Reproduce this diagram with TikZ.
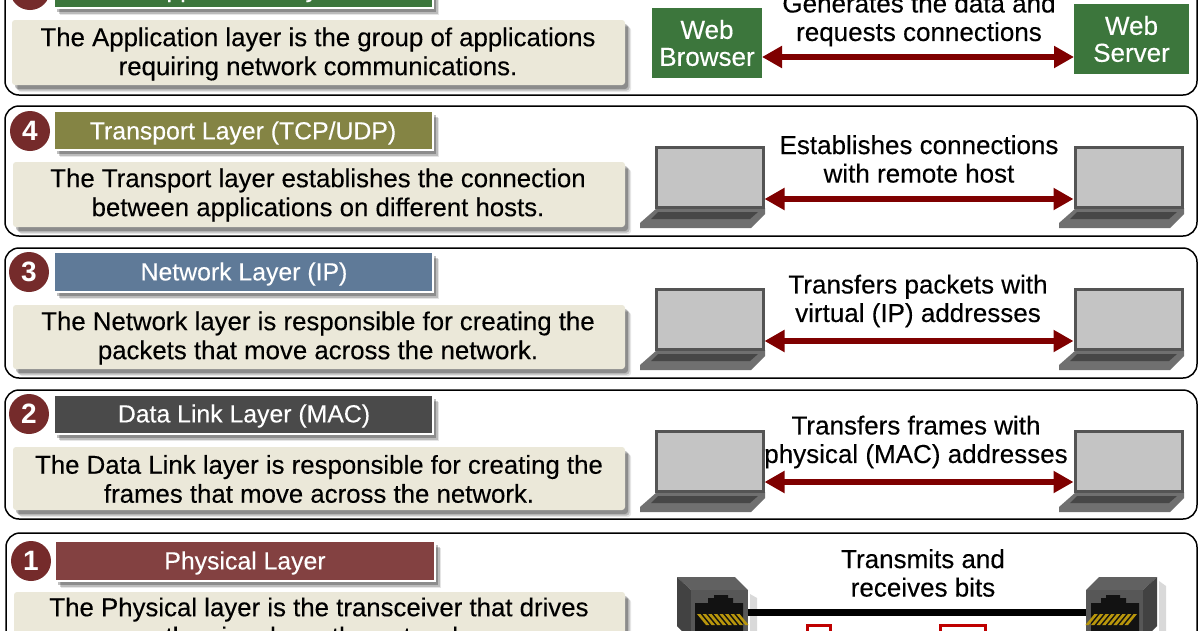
\documentclass[tikz,border=0pt]{standalone}
\usepackage{fontspec}
\setmainfont{Liberation Sans}
\newfontfamily\heavy[FakeBold=0.25]{Liberation Sans}
\usetikzlibrary{arrows.meta,shadows}
\definecolor{tan}{HTML}{EBE8D9}
\definecolor{darkred}{HTML}{7F0000}
\definecolor{badge}{HTML}{752B2B}
\definecolor{hgreen}{HTML}{3C763C}
\definecolor{holive}{HTML}{848444}
\definecolor{hblue}{HTML}{5F7A98}
\definecolor{hdark}{HTML}{4A4A4A}
\definecolor{hred}{HTML}{834141}
\definecolor{stripe}{HTML}{B8960C}
\tikzset{
  softshadow/.style={
    general shadow={fill=black,opacity=.10,shadow xshift=6pt,shadow yshift=-7pt},
    general shadow={fill=black,opacity=.18,shadow xshift=4.5pt,shadow yshift=-5.5pt},
    general shadow={fill=black,opacity=.25,shadow xshift=3pt,shadow yshift=-4pt}},
  panel/.style={draw=black,line width=1.5pt,rounded corners=14pt,fill=white},
  header/.style={draw=white,line width=2.5pt,softshadow},
  headtext/.style={text=white,font=\heavy\fontsize{24.8}{28}\selectfont,anchor=center},
  descbox/.style={fill=tan,rounded corners=3pt,softshadow},
  desctext/.style={text=black,align=center,font=\heavy\fontsize{25.8}{29}\selectfont},
  arrowtext/.style={text=black,align=center,font=\heavy\fontsize{26}{28.5}\selectfont},
  badgeball/.style={circle,fill=badge,minimum size=40pt,inner sep=0pt,text=white,font=\bfseries\fontsize{28}{28}\selectfont},
  bothway/.style={darkred,line width=5.5pt,{Triangle[length=20pt,width=21pt]}-{Triangle[length=20pt,width=21pt]}},
  appbox/.style={fill=hgreen,text=white,align=center,inner sep=0pt,font=\heavy\fontsize{26}{27}\selectfont},
  screenbox/.style={draw=black!67,line width=3pt,fill=black!23,inner sep=0pt},
  cable/.style={black,line width=7pt},
  bitbox/.style={draw=red!75!black,line width=3pt,fill=white}
}
% laptop: #1 name, #2 x shift, #3 y shift
\newcommand{\laptopat}[3]{%
  \begin{scope}[shift={(#2,#3)}]
    \fill[black!56] (657,208) -- (765,208) -- (765,214) -- (751,228) -- (640,228) -- (640,223) -- cycle;
    \fill[black!72] (658,212) -- (758,212) -- (750,219) -- (651,219) -- cycle;
    \node[screenbox,minimum width=107pt,minimum height=60pt] (#1) at (709.5,177) {};
  \end{scope}}
% RJ45 jack
\newcommand{\jackshape}{%
  \fill[black!62] (677,577) -- (735,577) -- (748,590) -- (691,590) -- cycle;
  \fill[black!74] (677,577) -- (691,590) -- (691,640) -- (677,626) -- cycle;
  \fill[black!66] (691,590) rectangle (748,640);
  \fill[black!93] (695,640) -- (695,603) -- (708,603) -- (708,598) -- (714,598) -- (714,595) -- (728,595) -- (728,598) -- (733,598) -- (733,603) -- (743,603) -- (743,640) -- cycle;
  \foreach \i in {0,...,7}{
    \fill[stripe] ({697+5.6*\i},614) -- ({700.4+5.6*\i},614) -- ({709.4+5.6*\i},625) -- ({706+5.6*\i},625) -- cycle;}}
\begin{document}
\begin{tikzpicture}[x=1pt,y=-1pt]
\useasboundingbox (0,0) rectangle (1200,630);
\clip (0,0) rectangle (1200,630);
\fill[white] (0,0) rectangle (1200,630);
% panels
\path[panel] (5,-40) rectangle (1197,95);
\path[panel] (5,106) rectangle (1197,236);
\path[panel] (5,248) rectangle (1197,378);
\path[panel] (5,390) rectangle (1197,519);
\path[panel] (6,533) rectangle (1197,680);
% headers
\path[header,fill=hgreen] (54,-30) rectangle (433,8);
\path[header,fill=holive] (54,111) rectangle (433,150);
\path[header,fill=hblue] (54,252) rectangle (433,292);
\path[header,fill=hdark] (54,395) rectangle (433,434);
\path[header,fill=hred] (55,541) rectangle (435,581);
\node[headtext,anchor=base] (h5) at (245,-3) {Application Layer};
\node[headtext] (h4) at (243,133) {Transport Layer (TCP/UDP)};
\node[headtext] (h3) at (244,274) {Network Layer (IP)};
\node[headtext] (h2) at (244,416) {Data Link Layer (MAC)};
\node[headtext] (h1) at (245,563) {Physical Layer};
% badges
\node[badgeball] (b5) at (30,-10) {5};
\node[badgeball] (b4) at (30,131) {4};
\node[badgeball] (b3) at (29,272) {3};
\node[badgeball] (b2) at (29,414) {2};
\node[badgeball] (b1) at (31,561) {1};
% description boxes
\path[descbox] (12,20) rectangle (625,85);
\path[descbox] (13,162) rectangle (625,227);
\path[descbox] (13,305) rectangle (625,369);
\path[descbox] (13,447) rectangle (625,510);
\path[descbox] (14,592) rectangle (625,680);
\node[desctext] (d5) at (318,54) {The Application layer is the group of applications\\requiring network communications.};
\node[desctext] (d4) at (318,195) {The Transport layer establishes the connection\\between applications on different hosts.};
\node[desctext] (d3) at (318,338) {The Network layer is responsible for creating the\\packets that move across the network.};
\node[desctext] (d2) at (319,479) {The Data Link layer is responsible for creating the\\frames that move across the network.};
\node[desctext,anchor=north] (d1) at (319,594) {The Physical layer is the transceiver that drives\\the signals on the network.};
% application layer
\node[appbox,minimum width=110pt,minimum height=70pt] (browser) at (707,43) {Web\\Browser};
\node[appbox,minimum width=115pt,minimum height=70pt] (server) at (1131.5,39) {Web\\Server};
\coordinate (ba) at (762,57);
\coordinate (sa) at (1074,57);
\draw[bothway] (ba) -- (sa);
\node[arrowtext] (t5) at (919,20) {Generates the data and\\requests connections};
% laptops
\laptopat{l4}{0}{0}
\laptopat{r4}{419}{0}
\laptopat{l3}{0}{142}
\laptopat{r3}{419}{142}
\laptopat{l2}{0}{284}
\laptopat{r2}{419}{284}
\coordinate (a4) at (l4.east |- 0,199);
\coordinate (b4) at (r4.west |- 0,199);
\coordinate (a3) at (l3.east |- 0,341);
\coordinate (b3) at (r3.west |- 0,341);
\coordinate (a2) at (l2.east |- 0,482);
\coordinate (b2a) at (r2.west |- 0,482);
\draw[bothway] (a4) -- (b4);
\draw[bothway] (a3) -- (b3);
\draw[bothway] (a2) -- (b2a);
\node[arrowtext] (t4) at (919,159) {Establishes connections\\with remote host};
\node[arrowtext] (t3) at (918,301) {Transfers packets with\\virtual (IP) addresses};
\node[arrowtext] (t2) at (916,442) {Transfers frames with\\physical (MAC) addresses};
% physical
\fill[black!15] (750,594) -- (757,598) -- (757,640) -- (750,640) -- cycle;
\fill[black!15] (1159,581) -- (1166,586) -- (1166,640) -- (1159,640) -- cycle;
\jackshape
\begin{scope}[shift={(1834,0)},xscale=-1]
\jackshape
\end{scope}
\node[minimum width=57pt,minimum height=44pt,inner sep=0pt] (jl) at (719.5,612) {};
\node[minimum width=57pt,minimum height=44pt,inner sep=0pt] (jr) at (1114.5,612) {};
\draw[cable] (jl.east) -- (jr.west);
\draw[bitbox] (807,660) -- (807,625) -- (830,625) -- (830,660);
\draw[bitbox] (940,660) -- (940,625) -- (985,625) -- (985,660);
\node[arrowtext] (t1) at (923,573) {Transmits and\\receives bits};
\end{tikzpicture}
\end{document}
